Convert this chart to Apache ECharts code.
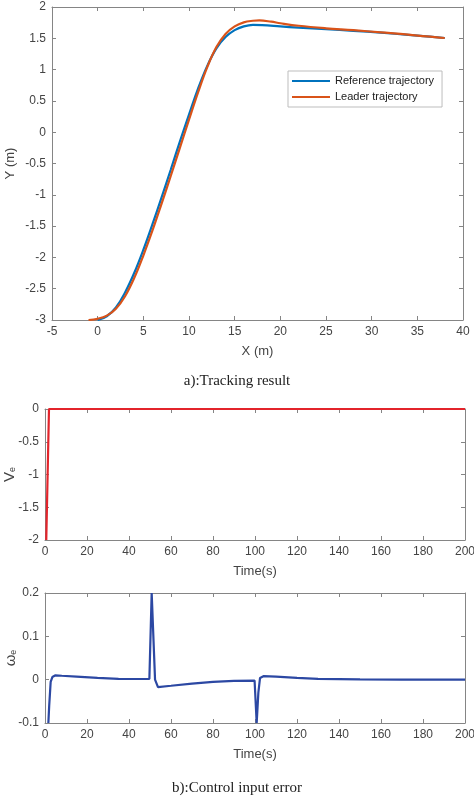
<!DOCTYPE html>
<html>
<head>
<meta charset="utf-8">
<script src="https://cdn.jsdelivr.net/npm/echarts@6/dist/echarts.min.js"></script>
<style>
    html, body { margin: 0; padding: 0; background: #fff; }
    #chart { width: 474px; height: 797px; }
</style>
</head>
<body>
<div id="chart"></div>
<script>
// a) tracking result
const refX = [0, 1, 2, 3, 4, 5, 6, 7, 8, 9, 10, 11, 12, 13, 14, 15, 16, 17, 18, 20, 22, 25, 28, 31, 34, 36, 38];
const refY = [-3, -2.94, -2.8, -2.56, -2.25, -1.88, -1.47, -1.04, -0.6, -0.15, 0.28, 0.7, 1.06, 1.34, 1.52, 1.63, 1.69, 1.715, 1.71, 1.69, 1.67, 1.645, 1.62, 1.59, 1.555, 1.53, 1.505];
const leadX = [-1, 0, 1, 2, 3, 4, 5, 6, 7, 8, 9, 10, 11, 12, 13, 14, 15, 16, 17, 17.7, 19, 20, 22, 25, 28, 31, 34, 36, 38];
const leadY = [-3, -2.98, -2.93, -2.82, -2.62, -2.33, -1.97, -1.57, -1.14, -0.7, -0.25, 0.2, 0.64, 1.04, 1.36, 1.57, 1.69, 1.755, 1.78, 1.785, 1.765, 1.74, 1.7, 1.66, 1.63, 1.595, 1.56, 1.53, 1.505];

// b) control input error
const veT = [0.6, 1.9, 200];
const veV = [-2, 0, 0];
const wT = [1.6, 2.0, 2.7, 3.5, 5, 8, 15, 25, 35, 45, 49.7, 50.8, 52.4, 53.8, 60, 70, 80, 90, 99.8, 100.8, 101.6, 102.4, 104, 110, 120, 130, 150, 170, 200];
const wV = [-0.1, -0.06, -0.005, 0.006, 0.01, 0.009, 0.007, 0.004, 0.002, 0.0015, 0.0015, 0.2, 0, -0.017, -0.014, -0.009, -0.005, -0.003, -0.002, -0.1, -0.03, 0.004, 0.008, 0.007, 0.004, 0.002, 0.0005, 0, 0];

const zip = (a, b) => a.map((v, i) => [v, b[i]]);

const font = 'Liberation Sans';
const axisCol = '#858585';
const labelCol = '#444';

function xAx(grid, min, max, interval, name, pos) {
    const main = pos === 'bottom';
    return {
        type: 'value', gridIndex: grid, position: pos, min: min, max: max, interval: interval,
        axisLine: { show: true, onZero: false, lineStyle: { color: axisCol, width: 1 } },
        axisTick: { show: true, inside: true, length: 4, lineStyle: { color: axisCol } },
        axisLabel: { show: main, color: labelCol, fontFamily: font, fontSize: 12, margin: 6 },
        splitLine: { show: false },
        name: main ? name : '', nameLocation: 'middle', nameGap: 25, nameMoveOverlap: false,
        nameTextStyle: { color: labelCol, fontFamily: font, fontSize: 13 }
    };
}
function yAx(grid, min, max, interval, name, pos, gap) {
    const main = pos === 'left';
    return {
        type: 'value', gridIndex: grid, position: pos, min: min, max: max, interval: interval,
        axisLine: { show: true, onZero: false, lineStyle: { color: axisCol, width: 1 } },
        axisTick: { show: true, inside: true, length: 4, lineStyle: { color: axisCol } },
        axisLabel: { show: main, color: labelCol, fontFamily: font, fontSize: 12, margin: 6 },
        splitLine: { show: false },
        name: main ? name : '', nameLocation: 'middle', nameGap: gap || 30, nameMoveOverlap: false,
        nameTextStyle: {
            color: labelCol, fontFamily: font, fontSize: 13,
            rich: {
                v: { fontSize: 15, fontFamily: font, color: labelCol, lineHeight: 16, verticalAlign: 'bottom' },
                s: { fontSize: 9, fontFamily: font, color: labelCol, lineHeight: 16, verticalAlign: 'bottom', padding: [8, 0, 0, 0] }
            }
        }
    };
}

const chart = echarts.init(document.getElementById('chart'));
const option = {
    backgroundColor: '#fff',
    animation: false,
    grid: [
        { left: 52, right: 11, top: 7, height: 313, outerBoundsMode: 'none' },
        { left: 45, right: 9, top: 409, height: 131, outerBoundsMode: 'none' },
        { left: 45, right: 9, top: 593, height: 130, outerBoundsMode: 'none' }
    ],
    xAxis: [
        xAx(0, -5, 40, 5, 'X (m)', 'bottom'),
        xAx(0, -5, 40, 5, '', 'top'),
        xAx(1, 0, 200, 20, 'Time(s)', 'bottom'),
        xAx(1, 0, 200, 20, '', 'top'),
        xAx(2, 0, 200, 20, 'Time(s)', 'bottom'),
        xAx(2, 0, 200, 20, '', 'top')
    ],
    yAxis: [
        yAx(0, -3, 2, 0.5, 'Y (m)', 'left', 35),
        yAx(0, -3, 2, 0.5, '', 'right'),
        yAx(1, -2, 0, 0.5, '{v|V}{s|e}', 'left', 28),
        yAx(1, -2, 0, 0.5, '', 'right'),
        yAx(2, -0.1, 0.2, 0.1, '{v|ω}{s|e}', 'left', 27),
        yAx(2, -0.1, 0.2, 0.1, '', 'right')
    ],
    legend: {
        data: ['Reference trajectory', 'Leader trajectory'],
        orient: 'vertical',
        left: 288, top: 71,
        padding: [4, 8, 4, 4],
        itemGap: 4,
        itemWidth: 38, itemHeight: 2,
        icon: 'rect',
        borderColor: '#bdbdbd', borderWidth: 1,
        backgroundColor: '#fff',
        textStyle: { color: '#222', fontFamily: font, fontSize: 11, lineHeight: 12 }
    },
    series: [
        {
            name: 'Reference trajectory', type: 'line', xAxisIndex: 0, yAxisIndex: 0,
            data: zip(refX, refY), smooth: 0.4, showSymbol: false,
            lineStyle: { color: '#0072BD', width: 2.2 }, itemStyle: { color: '#0072BD' }
        },
        {
            name: 'Leader trajectory', type: 'line', xAxisIndex: 0, yAxisIndex: 0,
            data: zip(leadX, leadY), smooth: 0.4, showSymbol: false,
            lineStyle: { color: '#D95319', width: 2.2 }, itemStyle: { color: '#D95319' }
        },
        {
            name: 'Ve', type: 'line', xAxisIndex: 2, yAxisIndex: 2,
            data: zip(veT, veV), showSymbol: false,
            lineStyle: { color: '#e3242b', width: 2.2 }
        },
        {
            name: 'we', type: 'line', xAxisIndex: 4, yAxisIndex: 4,
            data: zip(wT, wV), showSymbol: false,
            lineStyle: { color: '#2c48a3', width: 2.2 }
        }
    ],
    graphic: [
        {
            type: 'text', left: 'center', top: 374,
            style: { text: 'a):Tracking result', font: '15px "Liberation Serif"', fill: '#222' }
        },
        {
            type: 'text', left: 'center', top: 781,
            style: { text: 'b):Control input error', font: '15px "Liberation Serif"', fill: '#222' }
        }
    ]
};
chart.setOption(option);
</script>
</body>
</html>
